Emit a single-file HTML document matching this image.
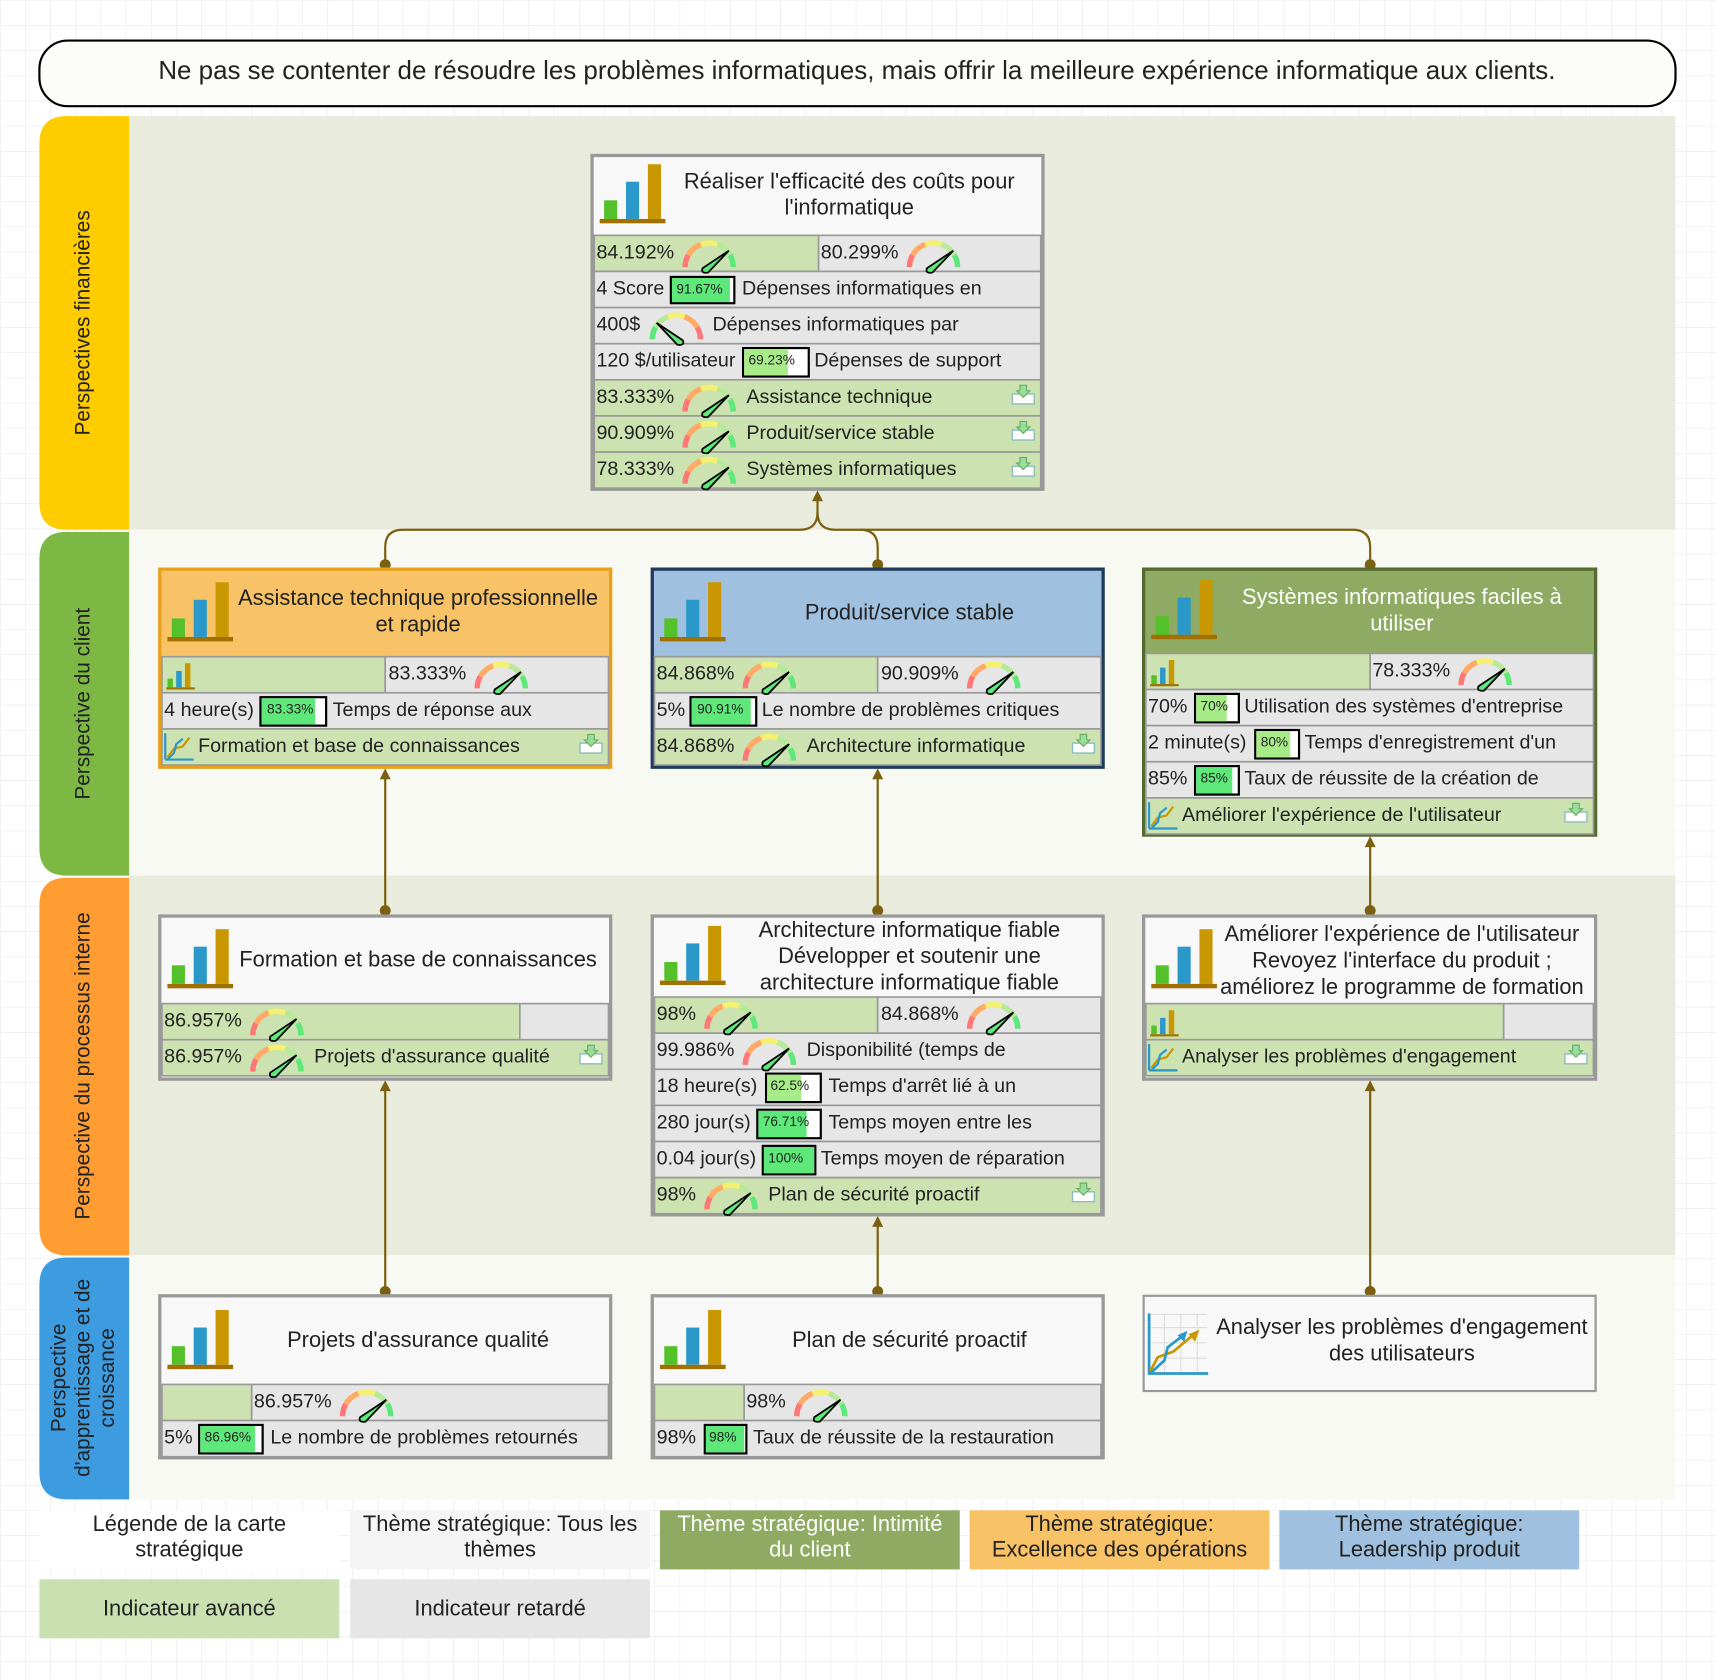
<!DOCTYPE html>
<html><head><meta charset="utf-8"><style>
html,body{margin:0;padding:0;background:#fff}
svg{display:block}
text{font-family:"Liberation Sans",Arial,sans-serif;fill:#222}
.r{font-size:18px}
.h{font-size:20px}
.s{font-size:12.5px}
.lane{font-size:19px}
</style></head><body>
<svg width="1716" height="1680" viewBox="0 0 1568 1535" xmlns="http://www.w3.org/2000/svg">
<defs>
<pattern id="grid" width="23" height="23" patternUnits="userSpaceOnUse">
<path d="M23 0H0V23" fill="none" stroke="#e6e6e6" stroke-width="1"/>
</pattern>
<g id="gR">
<path d="M-22,0 A22,22 0 0 1 -19.05,-11" fill="none" stroke="#f77" stroke-width="5"/>
<path d="M-19.05,-11 A22,22 0 0 1 -7.5,-20.7" fill="none" stroke="#fa6" stroke-width="5"/>
<path d="M-7.5,-20.7 A22,22 0 0 1 7.5,-20.7" fill="none" stroke="#f4f070" stroke-width="5"/>
<path d="M7.5,-20.7 A22,22 0 0 1 19.05,-11" fill="none" stroke="#b6ea9a" stroke-width="5"/>
<path d="M19.05,-11 A22,22 0 0 1 22,0" fill="none" stroke="#5ee87a" stroke-width="5"/>
<path d="M-6,1 L18,-15 L-1,5 Q-8,6 -6,1Z" fill="#5ee87a" stroke="#000" stroke-width="1.6"/>
</g>
<g id="gL">
<path d="M-22,0 A22,22 0 0 1 -19.05,-11" fill="none" stroke="#5ee87a" stroke-width="5"/>
<path d="M-19.05,-11 A22,22 0 0 1 -7.5,-20.7" fill="none" stroke="#b6ea9a" stroke-width="5"/>
<path d="M-7.5,-20.7 A22,22 0 0 1 7.5,-20.7" fill="none" stroke="#f4f070" stroke-width="5"/>
<path d="M7.5,-20.7 A22,22 0 0 1 19.05,-11" fill="none" stroke="#fa6" stroke-width="5"/>
<path d="M19.05,-11 A22,22 0 0 1 22,0" fill="none" stroke="#f77" stroke-width="5"/>
<path d="M6,1 L-18,-15 L1,5 Q8,6 6,1Z" fill="#5ee87a" stroke="#000" stroke-width="1.6"/>
</g>
<g id="bars">
<rect x="4" y="-17" width="12" height="17" fill="#55c12a"/>
<rect x="24" y="-34" width="12" height="34" fill="#2a98c8"/>
<rect x="44" y="-50" width="12" height="50" fill="#c99700"/>
<rect x="0" y="0" width="60" height="4" fill="#a07000"/>
</g>
<g id="sbars">
<rect x="1" y="-8" width="5" height="8" fill="#55c12a"/>
<rect x="9" y="-15" width="5" height="15" fill="#2a98c8"/>
<rect x="17" y="-22" width="5" height="22" fill="#c99700"/>
<rect x="0" y="0" width="26" height="2" fill="#a07000"/>
</g>
<g id="dl">
<rect x="-10" y="-4" width="20" height="9" fill="#fff" stroke="#8bb" stroke-width="1.2"/>
<path d="M-3,-12 h6 v5 h3 l-6,6 l-6,-6 h3z" fill="#9d9" stroke="#6a6" stroke-width="1"/>
</g>
<g id="trend">
<path d="M0,24 V0 M0,24 H26" stroke="#2a98c8" stroke-width="2" fill="none"/>
<path d="M2,22 L8,14 L16,12 L22,4" stroke="#c99700" stroke-width="2" fill="none"/>
<path d="M2,24 L8,18 L10,10 L16,5" stroke="#2a98c8" stroke-width="2" fill="none"/>
</g>
</defs>
<rect width="1568" height="1535" fill="url(#grid)"/>
<rect x="36" y="37" width="1495" height="60" rx="26" fill="#fcfcf8" stroke="#000" stroke-width="2"/>
<text x="783" y="72" text-anchor="middle" style="font-size:23.7px">Ne pas se contenter de résoudre les problèmes informatiques, mais offrir la meilleure expérience informatique aux clients.</text>
<rect x="118" y="106" width="1413" height="378" fill="#e9ecdc"/>
<rect x="118" y="484" width="1413" height="316" fill="#f8f9f3"/>
<rect x="118" y="800" width="1413" height="347" fill="#e9ecdc"/>
<rect x="118" y="1147" width="1413" height="223" fill="#f8f9f3"/>
<path d="M118,106 V484 H61 Q36,484 36,459 V131 Q36,106 61,106Z" fill="#ffcc00"/>
<path d="M118,486 V800 H61 Q36,800 36,775 V511 Q36,486 61,486Z" fill="#7cb843"/>
<path d="M118,802 V1147 H61 Q36,1147 36,1122 V827 Q36,802 61,802Z" fill="#ff9d33"/>
<path d="M118,1149 V1370 H61 Q36,1370 36,1345 V1174 Q36,1149 61,1149Z" fill="#3d9be0"/>
<text class="lane" transform="translate(82,295) rotate(-90)" text-anchor="middle">Perspectives financières</text>
<text class="lane" transform="translate(82,643) rotate(-90)" text-anchor="middle">Perspective du client</text>
<text class="lane" transform="translate(82,974) rotate(-90)" text-anchor="middle">Perspective du processus interne</text>
<text class="lane" transform="translate(60,1259) rotate(-90)" text-anchor="middle">Perspective</text>
<text class="lane" transform="translate(82,1259) rotate(-90)" text-anchor="middle">d'apprentissage et de</text>
<text class="lane" transform="translate(104,1259) rotate(-90)" text-anchor="middle">croissance</text>

<g stroke="#7a6010" stroke-width="2" fill="none">
<path d="M747,455 V468 Q747,484 731,484 H368 Q352,484 352,500 V516"/>
<path d="M747,468 Q747,484 763,484 H786 Q802,484 802,500 V516"/>
<path d="M786,484 H1236 Q1252,484 1252,500 V516"/>
<path d="M352,710 V832"/><path d="M802,710 V832"/><path d="M1252,772 V832"/>
<path d="M352,995 V1180"/><path d="M802,1119 V1180"/><path d="M1252,995 V1180"/>
</g>
<g fill="#7a6010">
<path d="M747,448 l-5,10 h10z"/>
<path d="M352,702 l-5,10 h10z"/><path d="M802,702 l-5,10 h10z"/><path d="M1252,764 l-5,10 h10z"/>
<path d="M352,987 l-5,10 h10z"/><path d="M802,1111 l-5,10 h10z"/><path d="M1252,987 l-5,10 h10z"/>
<circle cx="352" cy="516" r="5"/><circle cx="802" cy="516" r="5"/><circle cx="1252" cy="516" r="5"/>
<circle cx="352" cy="832" r="5"/><circle cx="802" cy="832" r="5"/><circle cx="1252" cy="832" r="5"/>
<circle cx="352" cy="1180" r="5"/><circle cx="802" cy="1180" r="5"/><circle cx="1252" cy="1180" r="5"/>
</g>

<g>
<rect x="541" y="142" width="412" height="305" fill="#f8f8f8" stroke="#999" stroke-width="3"/>
<g stroke="#999" stroke-width="1.5">
<rect x="543" y="215" width="205" height="33" fill="#cce2b0"/>
<rect x="748" y="215" width="203" height="33" fill="#e6e6e6"/>
<rect x="543" y="248" width="408" height="33" fill="#e6e6e6"/>
<rect x="543" y="281" width="408" height="33" fill="#e6e6e6"/>
<rect x="543" y="314" width="408" height="33" fill="#e6e6e6"/>
<rect x="543" y="347" width="408" height="33" fill="#cce2b0"/>
<rect x="543" y="380" width="408" height="33" fill="#cce2b0"/>
<rect x="543" y="413" width="408" height="33" fill="#cce2b0"/>
</g>
<use href="#bars" transform="translate(548,200)"/>
<text class="h" x="776" y="172" text-anchor="middle">Réaliser l'efficacité des coûts pour</text>
<text class="h" x="776" y="196" text-anchor="middle">l'informatique</text>
<text class="r" x="545" y="236">84.192%</text><use href="#gR" transform="translate(648,244)"/>
<text class="r" x="750" y="236">80.299%</text><use href="#gR" transform="translate(853,244)"/>
<text class="r" x="545" y="269">4 Score</text>
<rect x="613" y="253" width="58" height="24" fill="#fff" stroke="#000" stroke-width="2"/><rect x="614" y="254" width="53" height="22" fill="#5ee87a"/>
<text class="s" x="618" y="268">91.67%</text>
<text class="r" x="678" y="269">Dépenses informatiques en</text>
<text class="r" x="545" y="302">400$</text><use href="#gL" transform="translate(618,310)"/>
<text class="r" x="651" y="302">Dépenses informatiques par</text>
<text class="r" x="545" y="335">120 $/utilisateur</text>
<rect x="679" y="318" width="60" height="26" fill="#fff" stroke="#000" stroke-width="2"/><rect x="680" y="319" width="40" height="24" fill="#a8ec8a"/>
<text class="s" x="684" y="333">69.23%</text>
<text class="r" x="744" y="335">Dépenses de support</text>
<text class="r" x="545" y="368">83.333%</text><use href="#gR" transform="translate(648,376)"/><text class="r" x="682" y="368">Assistance technique</text><use href="#dl" transform="translate(935,364)"/>
<text class="r" x="545" y="401">90.909%</text><use href="#gR" transform="translate(648,409)"/><text class="r" x="682" y="401">Produit/service stable</text><use href="#dl" transform="translate(935,397)"/>
<text class="r" x="545" y="434">78.333%</text><use href="#gR" transform="translate(648,442)"/><text class="r" x="682" y="434">Systèmes informatiques</text><use href="#dl" transform="translate(935,430)"/>
</g>

<g>
<rect x="146" y="520" width="412" height="181" fill="#f8c366" stroke="#e8a01a" stroke-width="3"/>
<g stroke="#999" stroke-width="1.5">
<rect x="148" y="600" width="204" height="33" fill="#cce2b0"/>
<rect x="352" y="600" width="204" height="33" fill="#e6e6e6"/>
<rect x="148" y="633" width="408" height="33" fill="#e6e6e6"/>
<rect x="148" y="666" width="408" height="33" fill="#cce2b0"/>
</g>
<use href="#bars" transform="translate(153,582)"/>
<text class="h" x="382" y="553" text-anchor="middle">Assistance technique professionnelle</text>
<text class="h" x="382" y="577" text-anchor="middle">et rapide</text>
<use href="#sbars" transform="translate(152,628)"/>
<text class="r" x="355" y="621">83.333%</text><use href="#gR" transform="translate(458,629)"/>
<text class="r" x="150" y="654">4 heure(s)</text>
<rect x="238" y="637" width="60" height="26" fill="#fff" stroke="#000" stroke-width="2"/><rect x="239" y="638" width="49" height="24" fill="#5ee87a"/>
<text class="s" x="244" y="652">83.33%</text>
<text class="r" x="304" y="654">Temps de réponse aux</text>
<use href="#trend" transform="translate(151,670)"/>
<text class="r" x="181" y="687">Formation et base de connaissances</text><use href="#dl" transform="translate(540,683)"/>
</g>

<g>
<rect x="596" y="520" width="412" height="181" fill="#9fc0de" stroke="#1f3a5a" stroke-width="3"/>
<g stroke="#999" stroke-width="1.5">
<rect x="598" y="600" width="204" height="33" fill="#cce2b0"/>
<rect x="802" y="600" width="204" height="33" fill="#e6e6e6"/>
<rect x="598" y="633" width="408" height="33" fill="#e6e6e6"/>
<rect x="598" y="666" width="408" height="33" fill="#cce2b0"/>
</g>
<use href="#bars" transform="translate(603,582)"/>
<text class="h" x="831" y="566" text-anchor="middle">Produit/service stable</text>
<text class="r" x="600" y="621">84.868%</text><use href="#gR" transform="translate(703,629)"/>
<text class="r" x="805" y="621">90.909%</text><use href="#gR" transform="translate(908,629)"/>
<text class="r" x="600" y="654">5%</text>
<rect x="631" y="637" width="60" height="26" fill="#fff" stroke="#000" stroke-width="2"/><rect x="632" y="638" width="54" height="24" fill="#5ee87a"/>
<text class="s" x="637" y="652">90.91%</text>
<text class="r" x="696" y="654">Le nombre de problèmes critiques</text>
<text class="r" x="600" y="687">84.868%</text><use href="#gR" transform="translate(703,695)"/>
<text class="r" x="737" y="687">Architecture informatique</text><use href="#dl" transform="translate(990,683)"/>
</g>

<g>
<rect x="1045" y="520" width="413" height="243" fill="#8faa62" stroke="#556b2f" stroke-width="3"/>
<g stroke="#999" stroke-width="1.5">
<rect x="1047" y="597" width="205" height="33" fill="#cce2b0"/>
<rect x="1252" y="597" width="204" height="33" fill="#e6e6e6"/>
<rect x="1047" y="630" width="409" height="33" fill="#e6e6e6"/>
<rect x="1047" y="663" width="409" height="33" fill="#e6e6e6"/>
<rect x="1047" y="696" width="409" height="33" fill="#e6e6e6"/>
<rect x="1047" y="729" width="409" height="33" fill="#cce2b0"/>
</g>
<use href="#bars" transform="translate(1052,580)"/>
<text class="h" x="1281" y="552" text-anchor="middle" style="fill:#fff">Systèmes informatiques faciles à</text>
<text class="h" x="1281" y="576" text-anchor="middle" style="fill:#fff">utiliser</text>
<use href="#sbars" transform="translate(1051,625)"/>
<text class="r" x="1254" y="618">78.333%</text><use href="#gR" transform="translate(1357,626)"/>
<text class="r" x="1049" y="651">70%</text>
<rect x="1092" y="634" width="40" height="26" fill="#fff" stroke="#000" stroke-width="2"/><rect x="1093" y="635" width="28" height="24" fill="#a8ec8a"/>
<text class="s" x="1097" y="649">70%</text>
<text class="r" x="1137" y="651">Utilisation des systèmes d'entreprise</text>
<text class="r" x="1049" y="684">2 minute(s)</text>
<rect x="1147" y="667" width="40" height="26" fill="#fff" stroke="#000" stroke-width="2"/><rect x="1148" y="668" width="31" height="24" fill="#a8ec8a"/>
<text class="s" x="1152" y="682">80%</text>
<text class="r" x="1192" y="684">Temps d'enregistrement d'un</text>
<text class="r" x="1049" y="717">85%</text>
<rect x="1092" y="700" width="40" height="26" fill="#fff" stroke="#000" stroke-width="2"/><rect x="1093" y="701" width="33" height="24" fill="#5ee87a"/>
<text class="s" x="1097" y="715">85%</text>
<text class="r" x="1137" y="717">Taux de réussite de la création de</text>
<use href="#trend" transform="translate(1050,733)"/>
<text class="r" x="1080" y="750">Améliorer l'expérience de l'utilisateur</text><use href="#dl" transform="translate(1440,746)"/>
</g>

<g>
<rect x="146" y="837" width="412" height="149" fill="#f8f8f8" stroke="#999" stroke-width="3"/>
<g stroke="#999" stroke-width="1.5">
<rect x="148" y="917" width="327" height="33" fill="#cce2b0"/>
<rect x="475" y="917" width="81" height="33" fill="#e6e6e6"/>
<rect x="148" y="950" width="408" height="33" fill="#cce2b0"/>
</g>
<use href="#bars" transform="translate(153,899)"/>
<text class="h" x="382" y="883" text-anchor="middle">Formation et base de connaissances</text>
<text class="r" x="150" y="938">86.957%</text><use href="#gR" transform="translate(253,946)"/>
<text class="r" x="150" y="971">86.957%</text><use href="#gR" transform="translate(253,979)"/>
<text class="r" x="287" y="971">Projets d'assurance qualité</text><use href="#dl" transform="translate(540,967)"/>
</g>

<g>
<rect x="596" y="837" width="412" height="273" fill="#f8f8f8" stroke="#999" stroke-width="3"/>
<g stroke="#999" stroke-width="1.5">
<rect x="598" y="911" width="204" height="33" fill="#cce2b0"/>
<rect x="802" y="911" width="204" height="33" fill="#e6e6e6"/>
<rect x="598" y="944" width="408" height="33" fill="#e6e6e6"/>
<rect x="598" y="977" width="408" height="33" fill="#e6e6e6"/>
<rect x="598" y="1010" width="408" height="33" fill="#e6e6e6"/>
<rect x="598" y="1043" width="408" height="33" fill="#e6e6e6"/>
<rect x="598" y="1076" width="408" height="33" fill="#cce2b0"/>
</g>
<use href="#bars" transform="translate(603,896)"/>
<text class="h" x="831" y="856" text-anchor="middle">Architecture informatique fiable</text>
<text class="h" x="831" y="880" text-anchor="middle">Développer et soutenir une</text>
<text class="h" x="831" y="904" text-anchor="middle">architecture informatique fiable</text>
<text class="r" x="600" y="932">98%</text><use href="#gR" transform="translate(668,940)"/>
<text class="r" x="805" y="932">84.868%</text><use href="#gR" transform="translate(908,940)"/>
<text class="r" x="600" y="965">99.986%</text><use href="#gR" transform="translate(703,973)"/>
<text class="r" x="737" y="965">Disponibilité (temps de</text>
<text class="r" x="600" y="998">18 heure(s)</text>
<rect x="700" y="981" width="50" height="26" fill="#fff" stroke="#000" stroke-width="2"/><rect x="701" y="982" width="31" height="24" fill="#a8ec8a"/>
<text class="s" x="704" y="996">62.5%</text>
<text class="r" x="757" y="998">Temps d'arrêt lié à un</text>
<text class="r" x="600" y="1031">280 jour(s)</text>
<rect x="692" y="1014" width="58" height="26" fill="#fff" stroke="#000" stroke-width="2"/><rect x="693" y="1015" width="44" height="24" fill="#5ee87a"/>
<text class="s" x="697" y="1029">76.71%</text>
<text class="r" x="757" y="1031">Temps moyen entre les</text>
<text class="r" x="600" y="1064">0.04 jour(s)</text>
<rect x="697" y="1047" width="48" height="26" fill="#fff" stroke="#000" stroke-width="2"/><rect x="698" y="1048" width="46" height="24" fill="#5ee87a"/>
<text class="s" x="702" y="1062">100%</text>
<text class="r" x="750" y="1064">Temps moyen de réparation</text>
<text class="r" x="600" y="1097">98%</text><use href="#gR" transform="translate(668,1105)"/>
<text class="r" x="702" y="1097">Plan de sécurité proactif</text><use href="#dl" transform="translate(990,1093)"/>
</g>

<g>
<rect x="1045" y="837" width="413" height="149" fill="#f8f8f8" stroke="#999" stroke-width="3"/>
<g stroke="#999" stroke-width="1.5">
<rect x="1047" y="917" width="327" height="33" fill="#cce2b0"/>
<rect x="1374" y="917" width="82" height="33" fill="#e6e6e6"/>
<rect x="1047" y="950" width="409" height="33" fill="#cce2b0"/>
</g>
<use href="#bars" transform="translate(1052,899)"/>
<text class="h" x="1281" y="860" text-anchor="middle">Améliorer l'expérience de l'utilisateur</text>
<text class="h" x="1281" y="884" text-anchor="middle">Revoyez l'interface du produit ;</text>
<text class="h" x="1281" y="908" text-anchor="middle">améliorez le programme de formation</text>
<use href="#sbars" transform="translate(1051,945)"/>
<use href="#trend" transform="translate(1050,954)"/>
<text class="r" x="1080" y="971">Analyser les problèmes d'engagement</text><use href="#dl" transform="translate(1440,967)"/>
</g>

<g>
<rect x="146" y="1184" width="412" height="148" fill="#f8f8f8" stroke="#999" stroke-width="3"/>
<g stroke="#999" stroke-width="1.5">
<rect x="148" y="1265" width="82" height="33" fill="#cce2b0"/>
<rect x="230" y="1265" width="326" height="33" fill="#e6e6e6"/>
<rect x="148" y="1298" width="408" height="33" fill="#e6e6e6"/>
</g>
<use href="#bars" transform="translate(153,1247)"/>
<text class="h" x="382" y="1231" text-anchor="middle">Projets d'assurance qualité</text>
<text class="r" x="232" y="1286">86.957%</text><use href="#gR" transform="translate(335,1294)"/>
<text class="r" x="150" y="1319">5%</text>
<rect x="182" y="1302" width="58" height="26" fill="#fff" stroke="#000" stroke-width="2"/><rect x="183" y="1303" width="50" height="24" fill="#5ee87a"/>
<text class="s" x="187" y="1317">86.96%</text>
<text class="r" x="247" y="1319">Le nombre de problèmes retournés</text>
</g>

<g>
<rect x="596" y="1184" width="412" height="148" fill="#f8f8f8" stroke="#999" stroke-width="3"/>
<g stroke="#999" stroke-width="1.5">
<rect x="598" y="1265" width="82" height="33" fill="#cce2b0"/>
<rect x="680" y="1265" width="326" height="33" fill="#e6e6e6"/>
<rect x="598" y="1298" width="408" height="33" fill="#e6e6e6"/>
</g>
<use href="#bars" transform="translate(603,1247)"/>
<text class="h" x="831" y="1231" text-anchor="middle">Plan de sécurité proactif</text>
<text class="r" x="682" y="1286">98%</text><use href="#gR" transform="translate(750,1294)"/>
<text class="r" x="600" y="1319">98%</text>
<rect x="644" y="1302" width="38" height="26" fill="#fff" stroke="#000" stroke-width="2"/><rect x="645" y="1303" width="35" height="24" fill="#5ee87a"/>
<text class="s" x="648" y="1317">98%</text>
<text class="r" x="688" y="1319">Taux de réussite de la restauration</text>
</g>

<g>
<rect x="1045" y="1184" width="413" height="87" fill="#f8f8f8" stroke="#999" stroke-width="2"/>
<g stroke="#ddd" stroke-width="1">
<path d="M1049,1213 H1103 M1049,1227 H1103 M1049,1241 H1103 M1049,1201 H1103 M1064,1201 V1255 M1079,1201 V1255 M1094,1201 V1255"/>
</g>
<path d="M1050,1200 V1255 H1104" stroke="#2a98c8" stroke-width="2.5" fill="none"/>
<path d="M1051,1253 L1058,1240 L1072,1235 L1090,1220" stroke="#c99700" stroke-width="2.5" fill="none"/>
<path d="M1086,1219 L1096,1215 L1092,1226Z" fill="#c99700"/>
<path d="M1051,1255 L1064,1243 L1067,1231 L1080,1221" stroke="#2a98c8" stroke-width="2.5" fill="none"/>
<path d="M1076,1220 L1085,1216 L1082,1226Z" fill="#2a98c8"/>
<text class="h" x="1281" y="1219" text-anchor="middle">Analyser les problèmes d'engagement</text>
<text class="h" x="1281" y="1243" text-anchor="middle">des utilisateurs</text>
</g>

<rect x="36" y="1380" width="274" height="54" fill="#fff"/>
<text class="h" x="173" y="1399" text-anchor="middle">Légende de la carte</text>
<text class="h" x="173" y="1422" text-anchor="middle">stratégique</text>
<rect x="320" y="1380" width="274" height="54" fill="#f5f5f5"/>
<text class="h" x="457" y="1399" text-anchor="middle">Thème stratégique: Tous les</text>
<text class="h" x="457" y="1422" text-anchor="middle">thèmes</text>
<rect x="603" y="1380" width="274" height="54" fill="#8faa62"/>
<text class="h" x="740" y="1399" text-anchor="middle" style="fill:#fff">Thème stratégique: Intimité</text>
<text class="h" x="740" y="1422" text-anchor="middle" style="fill:#fff">du client</text>
<rect x="886" y="1380" width="274" height="54" fill="#f8c366"/>
<text class="h" x="1023" y="1399" text-anchor="middle">Thème stratégique:</text>
<text class="h" x="1023" y="1422" text-anchor="middle">Excellence des opérations</text>
<rect x="1169" y="1380" width="274" height="54" fill="#9fc0de"/>
<text class="h" x="1306" y="1399" text-anchor="middle">Thème stratégique:</text>
<text class="h" x="1306" y="1422" text-anchor="middle">Leadership produit</text>
<rect x="36" y="1443" width="274" height="54" fill="#c9e0b0"/>
<text class="h" x="173" y="1476" text-anchor="middle">Indicateur avancé</text>
<rect x="320" y="1443" width="274" height="54" fill="#e6e6e6"/>
<text class="h" x="457" y="1476" text-anchor="middle">Indicateur retardé</text>
</svg>
</body></html>
